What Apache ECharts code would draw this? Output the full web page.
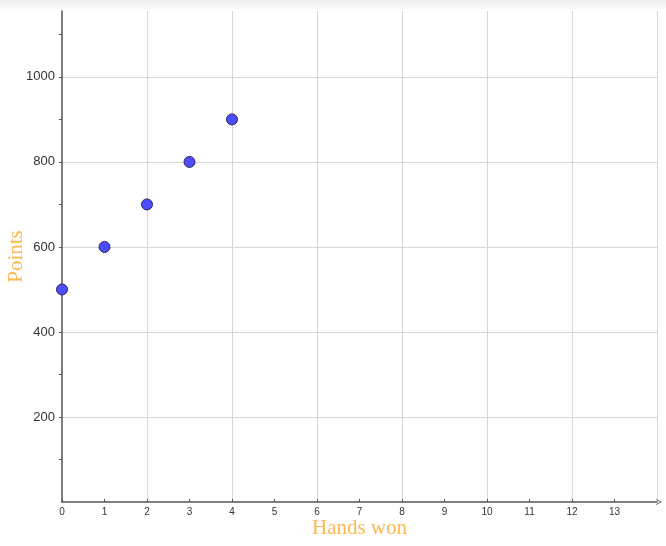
<!DOCTYPE html>
<html>
<head>
<meta charset="utf-8">
<script src="https://cdn.jsdelivr.net/npm/echarts@6/dist/echarts.min.js"></script>
<style>html,body{margin:0;padding:0;background:#fff}#c{width:666px;height:546px}</style>
</head>
<body>
<div id="c"></div>
<script>
const handsWon = [0, 1, 2, 3, 4];
const points = [500, 600, 700, 800, 900];
const xTickLabels = [0,1,2,3,4,5,6,7,8,9,10,11,12,13];
const yTickLabels = [200, 400, 600, 800, 1000];
const yMinorTicks = [100, 200, 300, 400, 500, 600, 700, 800, 900, 1000, 1100];
const xTitle = 'Hands won';
const yTitle = 'Points';

const chart = echarts.init(document.getElementById('c'), null, {renderer: 'canvas'});
const axisCol = '#555';
const gridCol = '#d6d6d6';
const option = {
  animation: false,
  backgroundColor: '#fff',
  graphic: [{
    type: 'rect', left: 0, top: 0, silent: true, z: -10,
    shape: {width: 666, height: 9},
    style: {fill: new echarts.graphic.LinearGradient(0,0,0,1,[{offset:0,color:'#f0f0f0'},{offset:1,color:'#fbfbfb'}])}
  }],
  grid: {left: 62, right: 9, top: 11, bottom: 44, containLabel: false, outerBoundsMode: 'none'},
  xAxis: [{
    type: 'value', min: 0, max: 14, interval: 1,
    name: xTitle, nameLocation: 'middle', nameGap: 16, nameMoveOverlap: false,
    nameTextStyle: {color: '#FFB84D', fontFamily: 'Liberation Serif', fontSize: 21},
    axisLine: {show: true, onZero: false, lineStyle: {color: axisCol, width: 1.5},
      symbol: ['none', 'path://M0,10 L5,0 L10,10 L8.6,10 L5,2.8 L1.4,10 Z'], symbolSize: [9, 6], symbolOffset: [0, 2]},
    axisTick: {show: true, length: 3, inside: true, lineStyle: {color: axisCol},
      customValues: xTickLabels},
    axisLabel: {customValues: xTickLabels, color: '#333', fontSize: 10, fontFamily: 'Liberation Sans', margin: 5,
      formatter: v => String(v)},
    splitLine: {show: false}
  }, {
    type: 'value', min: 0, max: 14, interval: 2, position: 'bottom',
    axisLine: {show: false}, axisTick: {show: false}, axisLabel: {show: false},
    splitLine: {show: true, showMinLine: false, lineStyle: {color: gridCol, width: 1}}
  }],
  yAxis: [{
    type: 'value', min: 0, max: 1155, interval: 100,
    name: yTitle, nameLocation: 'middle', nameGap: 35, nameRotate: 90, nameMoveOverlap: false,
    nameTextStyle: {color: '#FFB84D', fontFamily: 'Liberation Serif', fontSize: 21},
    axisLine: {show: true, onZero: false, lineStyle: {color: axisCol, width: 1.5}},
    axisTick: {show: true, length: 3, lineStyle: {color: axisCol}, customValues: yMinorTicks},
    axisLabel: {customValues: yTickLabels, color: '#333', fontSize: 13, fontFamily: 'Liberation Sans', margin: 7,
      formatter: v => String(v)},
    splitLine: {show: false}
  }, {
    type: 'value', min: 0, max: 1155, interval: 200, position: 'left',
    axisLine: {show: false}, axisTick: {show: false}, axisLabel: {show: false},
    splitLine: {show: true, showMinLine: false, showMaxLine: false, lineStyle: {color: gridCol, width: 1}}
  }],
  series: [{
    type: 'scatter', xAxisIndex: 0, yAxisIndex: 0, clip: false,
    data: handsWon.map((x, i) => [x, points[i]]),
    symbol: 'circle', symbolSize: 11,
    itemStyle: {color: '#4d4dff', borderColor: '#2a2a55', borderWidth: 1, opacity: 1},
    z: 5
  }]
};
chart.setOption(option);
</script>
</body>
</html>
